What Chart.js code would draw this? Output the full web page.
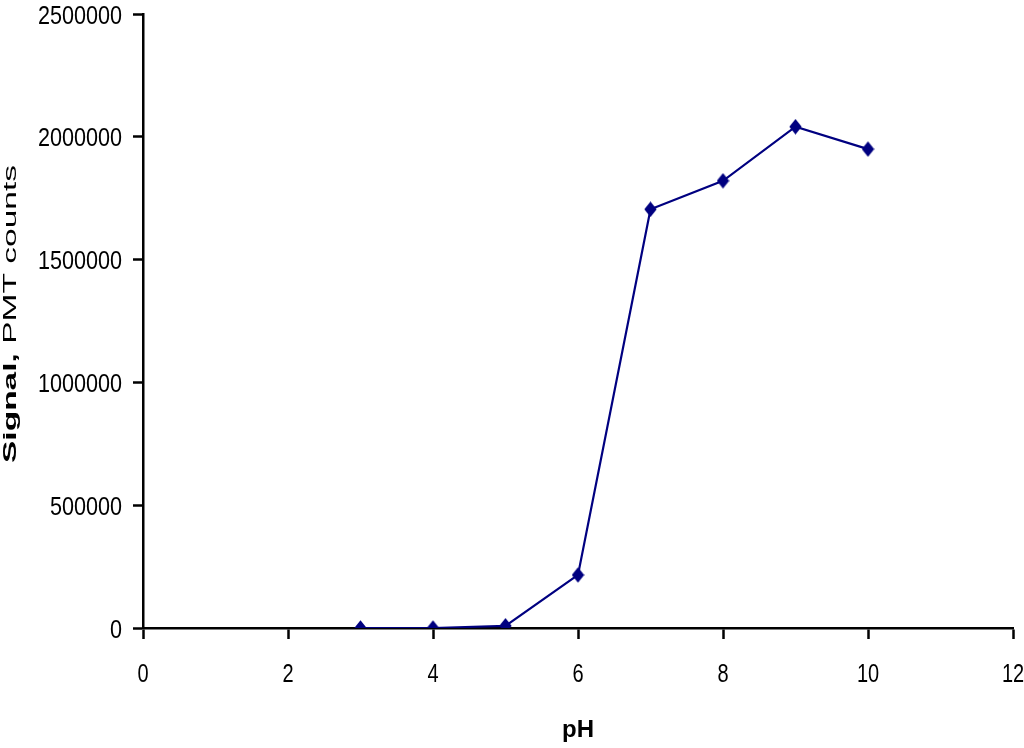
<!DOCTYPE html>
<html>
<head>
<meta charset="utf-8">
<script src="https://cdn.jsdelivr.net/npm/chart.js@4/dist/chart.umd.min.js"></script>
<style>
html,body{margin:0;padding:0;background:#fff;}
#wrap{width:1024px;height:748px;position:relative;}
</style>
</head>
<body>
<div id="wrap"><canvas id="c" width="1024" height="748"></canvas></div>
<script>
// Data
const phValues = [3, 4, 5, 6, 7, 8, 9, 10];
const signalValues = [0, 0, 9000, 216000, 1705000, 1821000, 2041000, 1950000];
const xTickValues = [0, 2, 4, 6, 8, 10, 12];
const yTickValues = [0, 500000, 1000000, 1500000, 2000000, 2500000];
const xTitle = 'pH';
const yTitleBold = 'Signal,';
const yTitleRest = ' PMT counts';

const NAVY = '#000080';
const FONT = '"Liberation Sans", Arial, sans-serif';

// diamond marker (taller than wide)
const marker = document.createElement('canvas');
marker.width = 13; marker.height = 16;
(function(){
  const m = marker.getContext('2d');
  m.fillStyle = NAVY;
  m.beginPath();
  m.moveTo(6.5, 0.3); m.lineTo(12.7, 8); m.lineTo(6.5, 15.7); m.lineTo(0.3, 8);
  m.closePath(); m.fill();
})();

// draw condensed tick labels at positions given by the chart's own scales
const labelPlugin = {
  id: 'condensedLabels',
  afterDraw(chart) {
    const ctx = chart.ctx;
    const xs = chart.scales.x, ys = chart.scales.y;
    ctx.save();
    ctx.fillStyle = '#000';
    // y labels
    ctx.font = '26px ' + FONT;
    ys.ticks.forEach(t => {
      const py = ys.getPixelForValue(t.value);
      const txt = String(t.value);
      ctx.save();
      ctx.translate(122, py + 9.5);
      ctx.scale(0.83, 1);
      ctx.textAlign = 'right';
      ctx.textBaseline = 'alphabetic';
      ctx.fillText(txt, 0, 0);
      ctx.restore();
    });
    // x labels
    ctx.font = '25px ' + FONT;
    xs.ticks.forEach(t => {
      const px = xs.getPixelForValue(t.value);
      const txt = String(t.value);
      ctx.save();
      ctx.translate(px, 682);
      ctx.scale(0.8, 1);
      ctx.textAlign = 'center';
      ctx.textBaseline = 'alphabetic';
      ctx.fillText(txt, 0, 0);
      ctx.restore();
    });
    ctx.restore();
  }
};

const titlePlugin = {
  id: 'titles',
  afterDraw(chart) {
    const ctx = chart.ctx;
    const area = chart.chartArea;
    ctx.save();
    ctx.fillStyle = '#000';
    // x title
    ctx.font = 'bold 24px ' + FONT;
    ctx.textAlign = 'center';
    ctx.textBaseline = 'alphabetic';
    ctx.fillText(xTitle, (area.left + area.right) / 2, 737);
    // y title (rotated, stretched along its length)
    const boldFont = 'bold 19px ' + FONT;
    const regFont = '19px ' + FONT;
    ctx.font = boldFont; const w1 = ctx.measureText(yTitleBold).width;
    ctx.font = regFont; const w2 = ctx.measureText(yTitleRest).width;
    const target = 298;
    const sx = target / (w1 + w2);
    ctx.translate(15.5, 314 + target / 2);
    ctx.rotate(-Math.PI / 2);
    ctx.scale(sx, 1);
    ctx.textAlign = 'left';
    ctx.font = boldFont; ctx.fillText(yTitleBold, 0, 0);
    ctx.font = regFont; ctx.fillText(yTitleRest, w1, 0);
    ctx.restore();
  }
};

new Chart(document.getElementById('c'), {
  type: 'scatter',
  data: {
    datasets: [{
      data: phValues.map((x, i) => ({ x: x, y: signalValues[i] })),
      showLine: true,
      borderColor: NAVY,
      borderWidth: 2.2,
      backgroundColor: NAVY,
      pointStyle: marker,
      pointRadius: 7,
      pointHoverRadius: 7,
      tension: 0
    }]
  },
  options: {
    responsive: false,
    animation: false,
    devicePixelRatio: 1,
    layout: { padding: { top: 14, right: 11, bottom: 0, left: 0 } },
    plugins: { legend: { display: false }, tooltip: { enabled: false } },
    scales: {
      x: {
        type: 'linear',
        min: 0, max: 12,
        afterBuildTicks(scale) { scale.ticks = xTickValues.map(v => ({ value: v })); },
        afterFit(scale) { scale.height = 120; },
        grid: { display: true, drawOnChartArea: false, drawTicks: true, tickLength: 11, tickWidth: 2.5, tickColor: '#000', color: '#000' },
        border: { display: true, color: '#000', width: 2.5 },
        ticks: { display: false }
      },
      y: {
        type: 'linear',
        min: 0, max: 2500000,
        afterBuildTicks(scale) { scale.ticks = yTickValues.map(v => ({ value: v })); },
        afterFit(scale) { scale.width = 143; },
        grid: { display: true, drawOnChartArea: false, drawTicks: true, tickLength: 10, tickWidth: 2.5, tickColor: '#000', color: '#000' },
        border: { display: true, color: '#000', width: 2.5 },
        ticks: { display: false }
      }
    }
  },
  plugins: [labelPlugin, titlePlugin]
});
</script>
</body>
</html>
